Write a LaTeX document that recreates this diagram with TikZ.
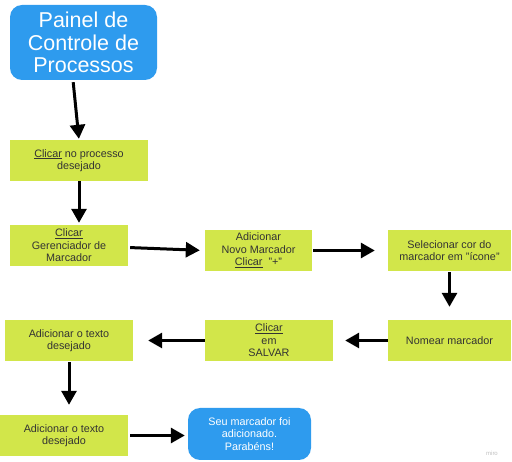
\documentclass[tikz,border=0pt]{standalone}
\usepackage{fontspec}
\setmainfont{Liberation Sans}
\usetikzlibrary{arrows.meta}

\definecolor{azul}{HTML}{2E9BEE}
\definecolor{verde}{HTML}{D2E64A}
\definecolor{texto}{HTML}{333333}

\tikzset{
  passo/.style={fill=verde, text=texto, align=center, font=\fontsize{10.8}{12.5}\selectfont,
    minimum height=41pt, inner sep=0pt},
  inicio/.style={fill=azul, text=white, rounded corners=12pt, align=center, inner sep=0pt},
  seta/.style={line width=3pt, -{Triangle[length=14pt,width=15pt]}}
}

\begin{document}
\begin{tikzpicture}[x=1pt,y=-1pt]
		\useasboundingbox (0,0) rectangle (512,462);
		% caixas
		\node[inicio, minimum width=147pt, minimum height=75pt, font=\fontsize{21.5}{22.5}\selectfont] (painel) at (83.5,42.5) {Painel de\\Controle de\\Processos};
		\node[passo, minimum width=138pt] (n1) at (79,160.5) {\underline{Clicar} no processo\\desejado};
		\node[passo, minimum width=118pt] (n2) at (69,245.5) {\underline{Clicar}\\Gerenciador de\\Marcador};
		\node[passo, minimum width=107pt] (n3) at (258.5,250.5) {Adicionar\\Novo Marcador\\\underline{Clicar}\ \ "+"};
		\node[passo, minimum width=123pt] (n4) at (449.5,250.5) {Selecionar cor do\\marcador em "ícone"};
		\node[passo, minimum width=123pt] (n5) at (449.5,340.5) {Nomear marcador};
		\node[passo, minimum width=128pt] (n6) at (269,340.5) {\underline{Clicar}\\em\\SALVAR};
		\node[passo, minimum width=128pt] (n7) at (69,340.5) {Adicionar o texto\\desejado};
		\node[passo, minimum width=128pt] (n8) at (64,435.5) {Adicionar o texto\\desejado};
		\node[inicio, minimum width=123pt, minimum height=52pt, font=\fontsize{10.8}{12.5}\selectfont] (fim) at (249.5,434) {Seu marcador foi\\adicionado.\\Parabéns!};
		\node[text=black!25, font=\fontsize{6}{7}\selectfont] (miro) at (492,453) {miro};
		% setas
		\draw[seta, shorten <=2pt, shorten >=1pt] ([xshift=-10.5pt]painel.south) -- (n1.north);
		\draw[seta, shorten >=2pt] (n1.south) -- ([xshift=10pt]n2.north);
		\draw[seta, shorten <=2pt, shorten >=5pt] ([yshift=-2pt]n2.east) -- (n3.west);
		\draw[seta, shorten <=1pt, shorten >=13pt] (n3.east) -- (n4.west);
		\draw[seta, shorten <=1pt, shorten >=13pt] (n4.south) -- (n5.north);
		\draw[seta, shorten >=12pt] (n5.west) -- (n6.east);
		\draw[seta, shorten >=15pt] (n6.west) -- (n7.east);
		\draw[seta, shorten <=1pt, shorten >=10pt] (n7.south) -- (n7.south |- n8.north);
		\draw[seta, shorten <=2pt, shorten >=3pt] (n8.east) -- (fim.west |- n8.east);
\end{tikzpicture}
\end{document}
